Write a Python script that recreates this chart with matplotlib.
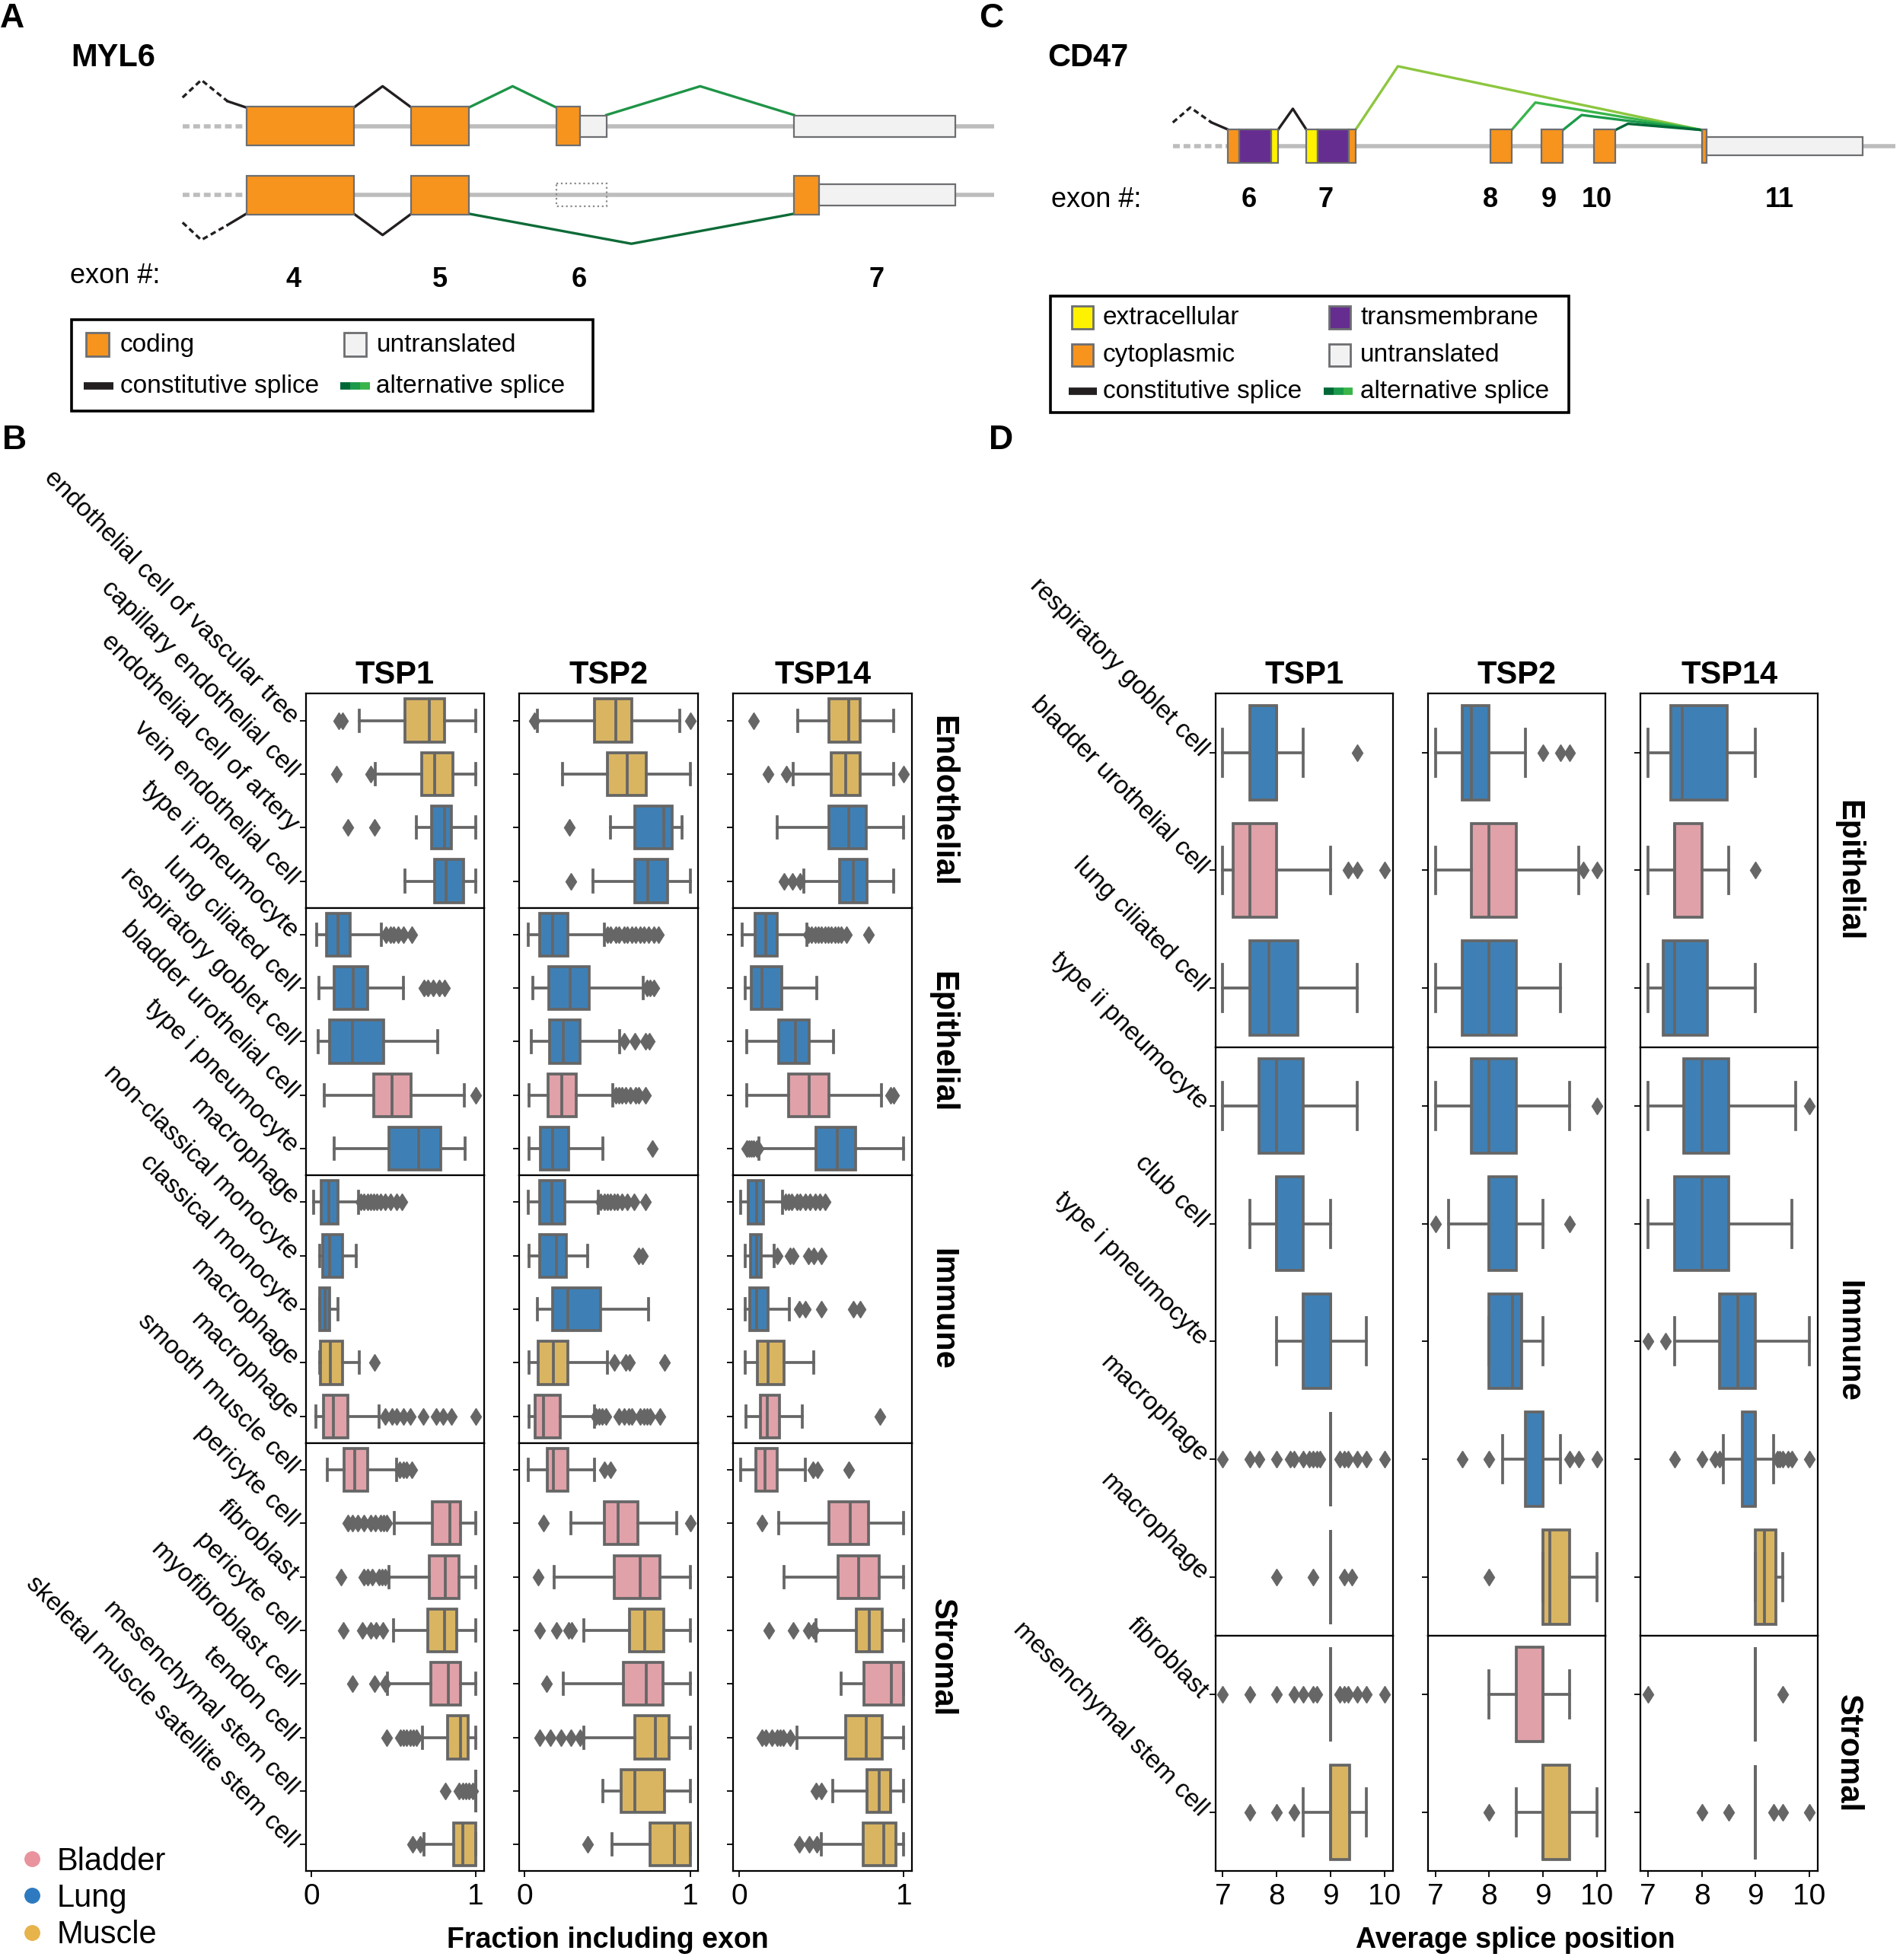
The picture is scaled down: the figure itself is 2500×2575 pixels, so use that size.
import matplotlib.pyplot as plt
from matplotlib.lines import Line2D
from matplotlib.patches import Rectangle

plt.rcParams['font.family'] = ['Liberation Sans', 'DejaVu Sans']

# ---------------- data ----------------
donors = ['TSP1', 'TSP2', 'TSP14']
tissues = ['Bladder', 'Lung', 'Muscle']
tissue_fill = {'Bladder': '#e0a1a9', 'Lung': '#3e80b6', 'Muscle': '#d9b562'}
tissue_dot = {'Bladder': '#e8939e', 'Lung': '#2d7ac0', 'Muscle': '#e7b34b'}

# panel B: fraction of cells including MYL6 exon 6
b_cells = ['endothelial cell of vascular tree', 'capillary endothelial cell',
           'endothelial cell of artery', 'vein endothelial cell',
           'type ii pneumocyte', 'lung ciliated cell', 'respiratory goblet cell',
           'bladder urothelial cell', 'type i pneumocyte',
           'macrophage', 'non-classical monocyte', 'classical monocyte',
           'macrophage', 'macrophage',
           'smooth muscle cell', 'pericyte cell', 'fibroblast', 'pericyte cell',
           'myofibroblast cell', 'tendon cell', 'mesenchymal stem cell',
           'skeletal muscle satellite stem cell']
b_tissue = ['Muscle', 'Muscle', 'Lung', 'Lung',
            'Lung', 'Lung', 'Lung', 'Bladder', 'Lung',
            'Lung', 'Lung', 'Lung', 'Muscle', 'Bladder',
            'Bladder', 'Bladder', 'Bladder', 'Muscle', 'Bladder', 'Muscle', 'Muscle', 'Muscle']
b_groups = ['Endothelial', 'Epithelial', 'Immune', 'Stromal']
b_sizes = [4, 5, 5, 8]

# (whisker low, q1, median, q3, whisker high)
b_tsp1 = [(0.29, 0.57, 0.72, 0.81, 1.0), (0.39, 0.67, 0.75, 0.86, 1.0),
          (0.64, 0.73, 0.81, 0.85, 1.0), (0.57, 0.75, 0.82, 0.925, 1.0),
          (0.03, 0.09, 0.16, 0.235, 0.425), (0.045, 0.14, 0.255, 0.34, 0.56),
          (0.04, 0.11, 0.25, 0.44, 0.77), (0.08, 0.38, 0.49, 0.605, 0.93),
          (0.14, 0.47, 0.655, 0.785, 0.935),
          (0.015, 0.06, 0.105, 0.16, 0.285), (0.05, 0.07, 0.11, 0.19, 0.275),
          (0.05, 0.05, 0.085, 0.11, 0.16), (0.05, 0.055, 0.115, 0.19, 0.29),
          (0.025, 0.075, 0.135, 0.22, 0.41),
          (0.095, 0.2, 0.265, 0.34, 0.52), (0.505, 0.735, 0.845, 0.91, 1.0),
          (0.47, 0.72, 0.815, 0.9, 1.0), (0.5, 0.71, 0.81, 0.885, 1.0),
          (0.465, 0.725, 0.835, 0.91, 1.0), (0.675, 0.83, 0.91, 0.955, 1.0),
          (1.0, 1.0, 1.0, 1.0, 1.0), (0.685, 0.865, 0.92, 1.0, 1.0)]
b_tsp1_out = [[0.165, 0.19], [0.15, 0.36], [0.22, 0.385], [],
              [0.455, 0.48, 0.5, 0.53, 0.56, 0.61], [0.685, 0.71, 0.74, 0.78, 0.81], [], [1.0], [],
              [0.30, 0.32, 0.34, 0.36, 0.38, 0.40, 0.42, 0.45, 0.48, 0.52, 0.55], [], [], [0.385],
              [0.45, 0.49, 0.52, 0.56, 0.60, 0.68, 0.76, 0.80, 0.85, 1.0],
              [0.535, 0.56, 0.58, 0.61], [0.22, 0.25, 0.28, 0.32, 0.36, 0.39, 0.42, 0.44, 0.46],
              [0.18, 0.32, 0.34, 0.37, 0.41, 0.43, 0.45], [0.195, 0.31, 0.36, 0.395, 0.435],
              [0.25, 0.385, 0.45], [0.46, 0.54, 0.56, 0.58, 0.60, 0.62, 0.64],
              [0.815, 0.90, 0.92, 0.94, 0.96, 0.98], [0.615, 0.66]]

b_tsp2 = [(0.075, 0.42, 0.55, 0.65, 0.94), (0.23, 0.5, 0.62, 0.735, 1.0),
          (0.52, 0.665, 0.84, 0.89, 0.95), (0.415, 0.665, 0.745, 0.865, 1.0),
          (0.02, 0.09, 0.17, 0.26, 0.48), (0.05, 0.145, 0.275, 0.39, 0.715),
          (0.04, 0.15, 0.235, 0.335, 0.575), (0.025, 0.14, 0.225, 0.31, 0.535),
          (0.025, 0.095, 0.17, 0.265, 0.475),
          (0.02, 0.09, 0.165, 0.245, 0.445), (0.025, 0.09, 0.19, 0.25, 0.38),
          (0.075, 0.17, 0.26, 0.46, 0.75), (0.025, 0.08, 0.175, 0.26, 0.5),
          (0.025, 0.065, 0.115, 0.215, 0.42),
          (0.02, 0.135, 0.175, 0.26, 0.42), (0.28, 0.48, 0.565, 0.685, 0.92),
          (0.18, 0.54, 0.7, 0.82, 1.0), (0.36, 0.635, 0.725, 0.84, 1.0),
          (0.235, 0.595, 0.735, 0.835, 1.0), (0.36, 0.665, 0.79, 0.875, 1.0),
          (0.475, 0.585, 0.665, 0.845, 1.0), (0.53, 0.76, 0.905, 1.0, 1.0)]
b_tsp2_out = [[0.06, 1.0], [], [0.27], [0.28],
              [0.50, 0.52, 0.55, 0.57, 0.60, 0.62, 0.65, 0.67, 0.70, 0.72, 0.75, 0.78, 0.81],
              [0.74, 0.76, 0.78], [0.60, 0.665, 0.73, 0.755],
              [0.55, 0.57, 0.59, 0.61, 0.64, 0.67, 0.69, 0.73], [0.77],
              [0.46, 0.48, 0.50, 0.52, 0.54, 0.56, 0.59, 0.62, 0.66, 0.73], [0.69, 0.71], [],
              [0.54, 0.61, 0.635, 0.845],
              [0.43, 0.45, 0.47, 0.49, 0.57, 0.60, 0.63, 0.65, 0.70, 0.72, 0.74, 0.76, 0.82],
              [0.48, 0.52], [0.115, 1.0], [0.08], [0.09, 0.19, 0.265, 0.285], [0.13],
              [0.09, 0.155, 0.22, 0.28, 0.335], [], [0.38]]

b_tsp14 = [(0.355, 0.545, 0.665, 0.735, 0.94), (0.33, 0.56, 0.645, 0.735, 0.94),
           (0.23, 0.545, 0.665, 0.77, 1.0), (0.395, 0.61, 0.695, 0.775, 0.94),
           (0.02, 0.095, 0.16, 0.23, 0.41), (0.035, 0.075, 0.14, 0.26, 0.47),
           (0.045, 0.24, 0.34, 0.425, 0.575), (0.045, 0.3, 0.425, 0.545, 0.865),
           (0.12, 0.465, 0.595, 0.705, 1.0),
           (0.01, 0.055, 0.105, 0.15, 0.265), (0.035, 0.07, 0.105, 0.135, 0.215),
           (0.035, 0.065, 0.105, 0.175, 0.305), (0.035, 0.11, 0.175, 0.275, 0.455),
           (0.04, 0.13, 0.17, 0.245, 0.385),
           (0.01, 0.1, 0.155, 0.23, 0.4), (0.24, 0.545, 0.675, 0.785, 1.0),
           (0.275, 0.6, 0.725, 0.85, 1.0), (0.465, 0.71, 0.79, 0.87, 1.0),
           (0.62, 0.76, 0.925, 1.0, 1.0), (0.35, 0.645, 0.77, 0.87, 1.0),
           (0.57, 0.775, 0.85, 0.92, 1.0), (0.5, 0.755, 0.88, 0.95, 1.0)]
b_tsp14_out = [[0.09], [0.175, 0.285, 1.0], [], [0.275, 0.325, 0.37],
               [0.42, 0.44, 0.46, 0.48, 0.50, 0.52, 0.54, 0.56, 0.58, 0.60, 0.62, 0.65, 0.785],
               [], [], [0.92, 0.94], [0.045, 0.06, 0.075, 0.09, 0.105, 0.115],
               [0.28, 0.30, 0.32, 0.35, 0.37, 0.40, 0.43, 0.46, 0.49, 0.52],
               [0.23, 0.31, 0.33, 0.42, 0.455, 0.50], [0.365, 0.40, 0.50, 0.695, 0.735], [],
               [0.855], [0.45, 0.475, 0.665], [0.14], [], [0.18, 0.33, 0.42, 0.455], [],
               [0.14, 0.16, 0.20, 0.23, 0.25, 0.27, 0.31], [0.465, 0.50], [0.365, 0.425, 0.47]]

# panel D: average CD47 splice position
d_cells = ['respiratory goblet cell', 'bladder urothelial cell', 'lung ciliated cell',
           'type ii pneumocyte', 'club cell', 'type i pneumocyte', 'macrophage', 'macrophage',
           'fibroblast', 'mesenchymal stem cell']
d_tissue = ['Lung', 'Bladder', 'Lung', 'Lung', 'Lung', 'Lung', 'Lung', 'Muscle', 'Bladder', 'Muscle']
d_groups = ['Epithelial', 'Immune', 'Stromal']
d_sizes = [3, 5, 2]

d_tsp1 = [(7.0, 7.5, 8.0, 8.0, 8.5), (7.0, 7.19, 7.5, 8.0, 9.0), (7.0, 7.5, 7.85, 8.4, 9.5),
          (7.0, 7.67, 8.0, 8.5, 9.5), (7.5, 8.0, 8.0, 8.5, 9.0), (8.0, 8.5, 9.0, 9.0, 9.67),
          (9.0, 9.0, 9.0, 9.0, 9.0), (9.0, 9.0, 9.0, 9.0, 9.0), (9.0, 9.0, 9.0, 9.0, 9.0),
          (8.5, 9.0, 9.0, 9.35, 9.67)]
d_tsp1_out = [[9.5], [9.33, 9.5, 10.0], [], [], [], [],
              [7.0, 7.5, 7.67, 8.0, 8.25, 8.33, 8.5, 8.6, 8.67, 8.75, 8.8,
               9.17, 9.25, 9.33, 9.5, 9.67, 10.0],
              [8.0, 8.67, 9.25, 9.4],
              [7.0, 7.5, 8.0, 8.33, 8.5, 8.67, 8.75, 9.17, 9.25, 9.33, 9.5, 9.67, 10.0],
              [7.5, 8.0, 8.33]]
d_tsp2 = [(7.0, 7.5, 7.67, 8.0, 8.67), (7.0, 7.67, 8.0, 8.5, 9.67), (7.0, 7.5, 8.0, 8.5, 9.33),
          (7.0, 7.67, 8.0, 8.5, 9.5), (7.25, 8.0, 8.0, 8.5, 9.0), (8.0, 8.0, 8.43, 8.6, 9.0),
          (8.25, 8.67, 9.0, 9.0, 9.33), (9.0, 9.0, 9.12, 9.5, 10.0), (8.0, 8.5, 9.0, 9.0, 9.5),
          (8.5, 9.0, 9.0, 9.5, 10.0)]
d_tsp2_out = [[9.0, 9.33, 9.5], [9.75, 10.0], [], [10.0], [7.0, 9.5], [],
              [7.5, 8.0, 9.5, 9.67, 10.0], [8.0], [], [8.0]]
d_tsp14 = [(7.0, 7.42, 7.64, 8.47, 9.0), (7.0, 7.5, 7.5, 8.0, 8.5), (7.0, 7.29, 7.5, 8.1, 9.0),
           (7.0, 7.67, 8.0, 8.5, 9.75), (7.0, 7.5, 8.0, 8.5, 9.67), (7.5, 8.33, 8.67, 9.0, 10.0),
           (8.4, 8.75, 9.0, 9.0, 9.33), (9.0, 9.0, 9.17, 9.38, 9.5), (9.0, 9.0, 9.0, 9.0, 9.0),
           (9.0, 9.0, 9.0, 9.0, 9.0)]
d_tsp14_out = [[], [9.0], [], [10.0], [], [7.0, 7.33],
               [7.5, 8.0, 8.25, 8.33, 9.4, 9.45, 9.5, 9.6, 9.67, 10.0], [], [7.0, 9.5],
               [8.0, 8.5, 9.33, 9.5, 10.0]]

# panels A and C: gene models (schematic coordinates)
myl6_top_coding = [(197, 283), (329, 375), (445, 464)]
myl6_top_utr = [(464, 485), (635, 764)]
myl6_bot_coding = [(197, 283), (329, 375), (635, 655)]
myl6_bot_utr = [(655, 764)]
myl6_bot_skipped = [(445, 485)]
myl6_exon_ids = ['4', '5', '6', '7']
myl6_exon_x = [235, 352, 463, 701]

cd47_parts = [(982, 991, 'cyto'), (991, 1017, 'tm'), (1017, 1022, 'extra'),
              (1045, 1054, 'extra'), (1054, 1079, 'tm'), (1079, 1084, 'cyto'),
              (1192, 1209, 'cyto'), (1233, 1250, 'cyto'), (1275, 1292, 'cyto'),
              (1361, 1365, 'cyto')]
cd47_utr = [(1365, 1490)]
cd47_exon_ids = ['6', '7', '8', '9', '10', '11']
cd47_exon_x = [999, 1060, 1192, 1239, 1277, 1423]
cd47_alt_donor = [1084, 1209, 1250, 1292]
cd47_alt_peak = [(1118, 53), (1228, 82), (1265, 92), (1302, 99)]
cd47_alt_color = ['#8cc63f', '#39b54a', '#1a9a4a', '#006837']

# ---------------- styling ----------------
W, H = 1522.0, 1568.0
gray = '#666666'
orange, yellow, purple, utr_fill = '#f7941d', '#fff200', '#662d91', '#f2f2f2'
part_color = {'cyto': orange, 'tm': purple, 'extra': yellow}
exon_edge = '#6d6e71'
intron_gray = '#bdbdbd'
const_color = '#231f20'
box_lw = 2.7

fig = plt.figure(figsize=(25, 25.75), dpi=100)
ov = fig.add_axes([0, 0, 1, 1])
ov.set_xlim(0, W)
ov.set_ylim(H, 0)
ov.axis('off')


def rect(x0, x1, y0, y1):
    return [x0 / W, 1 - y1 / H, (x1 - x0) / W, (y1 - y0) / H]


def box_grid(stats, outs, cells, tissue, groups, sizes, cols, y0, y1, xlim, xticks):
    per = (y1 - y0) / sum(sizes)
    start, top = 0, y0
    for g, n in zip(groups, sizes):
        bottom = top + n * per
        idx = list(range(start, start + n))
        for ci, (x0, x1) in enumerate(cols):
            ax = fig.add_axes(rect(x0, x1, top, bottom))
            st = [dict(whislo=stats[ci][i][0], q1=stats[ci][i][1], med=stats[ci][i][2],
                       q3=stats[ci][i][3], whishi=stats[ci][i][4], fliers=outs[ci][i])
                  for i in idx]
            bp = ax.bxp(st, positions=list(range(n)), widths=0.8, capwidths=0.4,
                        orientation='horizontal', patch_artist=True,
                        boxprops=dict(edgecolor=gray, linewidth=box_lw),
                        medianprops=dict(color=gray, linewidth=box_lw),
                        whiskerprops=dict(color=gray, linewidth=box_lw),
                        capprops=dict(color=gray, linewidth=box_lw),
                        flierprops=dict(marker='d', markerfacecolor=gray, markeredgecolor=gray,
                                        markersize=11.5, linestyle='none'))
            for patch, i in zip(bp['boxes'], idx):
                patch.set_facecolor(tissue_fill[tissue[i]])
            ax.set_xlim(*xlim)
            ax.set_ylim(n - 0.5, -0.5)
            ax.set_yticks(range(n))
            if ci == 0:
                ax.set_yticklabels([cells[i] for i in idx], rotation=-45, ha='right',
                                   va='center', rotation_mode='anchor', fontsize=24)
            else:
                ax.set_yticklabels([])
            ax.tick_params(axis='y', length=6, width=1.3, pad=5)
            if g == groups[-1]:
                ax.set_xticks(xticks)
                ax.set_xticklabels([str(t) for t in xticks])
                ax.tick_params(axis='x', length=6, width=1.3, labelsize=28, pad=5)
            else:
                ax.set_xticks([])
            for s in ax.spines.values():
                s.set_linewidth(1.6)
                s.set_color('black')
            if g == groups[0]:
                ax.set_title(donors[ci], fontsize=30, fontweight='bold', pad=10)
            if ci == len(cols) - 1:
                ax.text(1.17, 0.5, g, transform=ax.transAxes, rotation=-90, ha='center',
                        va='center', fontsize=30, fontweight='bold')
        start, top = start + n, bottom


box_grid([b_tsp1, b_tsp2, b_tsp14], [b_tsp1_out, b_tsp2_out, b_tsp14_out], b_cells, b_tissue,
         b_groups, b_sizes, [(244.5, 387), (415, 558.5), (586.5, 729.5)], 555, 1497,
         (-0.035, 1.05), [0, 1])
box_grid([d_tsp1, d_tsp2, d_tsp14], [d_tsp1_out, d_tsp2_out, d_tsp14_out], d_cells, d_tissue,
         d_groups, d_sizes, [(972, 1114), (1142, 1284), (1312, 1454)], 555, 1497,
         (6.86, 10.16), [7, 8, 9, 10])

ov.text(486, 1552, 'Fraction including exon', fontsize=27, fontweight='bold', ha='center', va='center')
ov.text(1212, 1552, 'Average splice position', fontsize=27, fontweight='bold', ha='center', va='center')

handles = [Line2D([], [], marker='o', ls='', color=tissue_dot[t], markersize=14) for t in tissues]
fig.legend(handles, tissues, loc='upper left', bbox_to_anchor=(14 / W, 1 - 1477 / H),
           frameon=False, fontsize=30, handlelength=0.9, handletextpad=0.35,
           labelspacing=0.2, borderpad=0, borderaxespad=0)


# ---------------- gene models ----------------
def exon(x0, x1, yc, h, fc, ls='-', ec=exon_edge):
    ov.add_patch(Rectangle((x0, yc - h / 2), x1 - x0, h, facecolor=fc, edgecolor=ec,
                           lw=1.6, ls=ls, zorder=3))


def backbone(yc, xd, xs, xe):
    ov.plot([xd, xs], [yc, yc], color=intron_gray, lw=4, dashes=(1.6, 0.9),
            solid_capstyle='butt', zorder=1)
    ov.plot([xs, xe], [yc, yc], color=intron_gray, lw=4, solid_capstyle='butt', zorder=1)


def splice(pts, color, dashed=False):
    xs, ys = zip(*pts)
    kw = dict(dashes=(2.2, 1.4)) if dashed else {}
    ov.plot(xs, ys, color=color, lw=2.4, zorder=2, **kw)


# panel A : MYL6
ov.text(0, 15, 'A', fontsize=32, fontweight='bold', ha='left', va='center')
ov.text(57, 46, 'MYL6', fontsize=30, fontweight='bold', ha='left', va='center')
top_y, bot_y = 101, 156
backbone(top_y, 146, 197, 795)
backbone(bot_y, 146, 197, 795)
for a, b in myl6_top_coding:
    exon(a, b, top_y, 31, orange)
for a, b in myl6_top_utr:
    exon(a, b, top_y, 17, utr_fill)
for a, b in myl6_bot_coding:
    exon(a, b, bot_y, 31, orange)
for a, b in myl6_bot_utr:
    exon(a, b, bot_y, 17, utr_fill)
for a, b in myl6_bot_skipped:
    exon(a, b, bot_y, 18, 'none', ls=':', ec='#8a8a8a')

splice([(146, 78), (161, 64), (182, 81)], const_color, dashed=True)
splice([(182, 81), (197, 86)], const_color)
splice([(283, 86), (306, 69), (329, 86)], const_color)
splice([(375, 86), (410, 69), (445, 86)], '#1e9447')
splice([(485, 92), (560, 69), (635, 92)], '#1e9447')
splice([(146, 178), (161, 192), (182, 180)], const_color, dashed=True)
splice([(182, 180), (197, 171)], const_color)
splice([(283, 171), (306, 188), (329, 171)], const_color)
splice([(375, 171), (505, 195), (635, 171)], '#0d6b37')

ov.text(56, 221, 'exon #:', fontsize=26, ha='left', va='center')
for lab, x in zip(myl6_exon_ids, myl6_exon_x):
    ov.text(x, 224, lab, fontsize=26, fontweight='bold', ha='center', va='center')

ov.add_patch(Rectangle((57, 256), 417, 73, fill=False, lw=2.6, ec='black', zorder=3))
ov.add_patch(Rectangle((69, 266), 18, 19, fc=orange, ec=exon_edge, lw=2, zorder=3))
ov.text(96, 276, 'coding', fontsize=24, ha='left', va='center')
ov.add_patch(Rectangle((275, 266), 18, 19, fc=utr_fill, ec=exon_edge, lw=2, zorder=3))
ov.text(301, 276, 'untranslated', fontsize=24, ha='left', va='center')
ov.plot([67, 91], [309, 309], color=const_color, lw=7, solid_capstyle='butt')
ov.text(96, 309, 'constitutive splice', fontsize=24, ha='left', va='center')
for k, c in enumerate(['#006837', '#1a9a4a', '#39b54a']):
    ov.plot([272 + 8 * k, 280 + 8 * k], [309, 309], color=c, lw=7, solid_capstyle='butt')
ov.text(301, 309, 'alternative splice', fontsize=24, ha='left', va='center')

# panel C : CD47
ov.text(783, 15, 'C', fontsize=32, fontweight='bold', ha='left', va='center')
ov.text(838, 46, 'CD47', fontsize=30, fontweight='bold', ha='left', va='center')
c_y = 117
backbone(c_y, 938, 980, 1516)
for a, b, kind in cd47_parts:
    exon(a, b, c_y, 27, part_color[kind])
for a, b in cd47_utr:
    exon(a, b, c_y, 15, utr_fill)
splice([(938, 98), (952, 86), (969, 98)], const_color, dashed=True)
splice([(969, 98), (983, 104)], const_color)
splice([(1022, 104), (1034, 87), (1045, 104)], const_color)
for d, p, c in zip(cd47_alt_donor, cd47_alt_peak, cd47_alt_color):
    splice([(d, 104), p, (1361, 104)], c)

ov.text(841, 160, 'exon #:', fontsize=26, ha='left', va='center')
for lab, x in zip(cd47_exon_ids, cd47_exon_x):
    ov.text(x, 160, lab, fontsize=26, fontweight='bold', ha='center', va='center')

ov.add_patch(Rectangle((840, 237), 415, 93, fill=False, lw=2.6, ec='black', zorder=3))
c_rows = [254, 284, 313]
ov.add_patch(Rectangle((857, c_rows[0] - 9), 17, 18, fc=yellow, ec=exon_edge, lw=2, zorder=3))
ov.text(882, c_rows[0], 'extracellular', fontsize=24, ha='left', va='center')
ov.add_patch(Rectangle((1063, c_rows[0] - 9), 17, 18, fc=purple, ec=exon_edge, lw=2, zorder=3))
ov.text(1088, c_rows[0], 'transmembrane', fontsize=24, ha='left', va='center')
ov.add_patch(Rectangle((857, c_rows[1] - 9), 17, 18, fc=orange, ec=exon_edge, lw=2, zorder=3))
ov.text(882, c_rows[1], 'cytoplasmic', fontsize=24, ha='left', va='center')
ov.add_patch(Rectangle((1063, c_rows[1] - 9), 17, 18, fc=utr_fill, ec=exon_edge, lw=2, zorder=3))
ov.text(1088, c_rows[1], 'untranslated', fontsize=24, ha='left', va='center')
ov.plot([855, 877], [c_rows[2], c_rows[2]], color=const_color, lw=7, solid_capstyle='butt')
ov.text(882, c_rows[2], 'constitutive splice', fontsize=24, ha='left', va='center')
for k, c in enumerate(['#006837', '#1a9a4a', '#39b54a']):
    ov.plot([1059 + 7.7 * k, 1066.7 + 7.7 * k], [c_rows[2], c_rows[2]], color=c, lw=7,
            solid_capstyle='butt')
ov.text(1088, c_rows[2], 'alternative splice', fontsize=24, ha='left', va='center')

# panel letters for B and D
ov.text(2, 352, 'B', fontsize=32, fontweight='bold', ha='left', va='center')
ov.text(791, 352, 'D', fontsize=32, fontweight='bold', ha='left', va='center')

fig.savefig('out.png', dpi=100)
